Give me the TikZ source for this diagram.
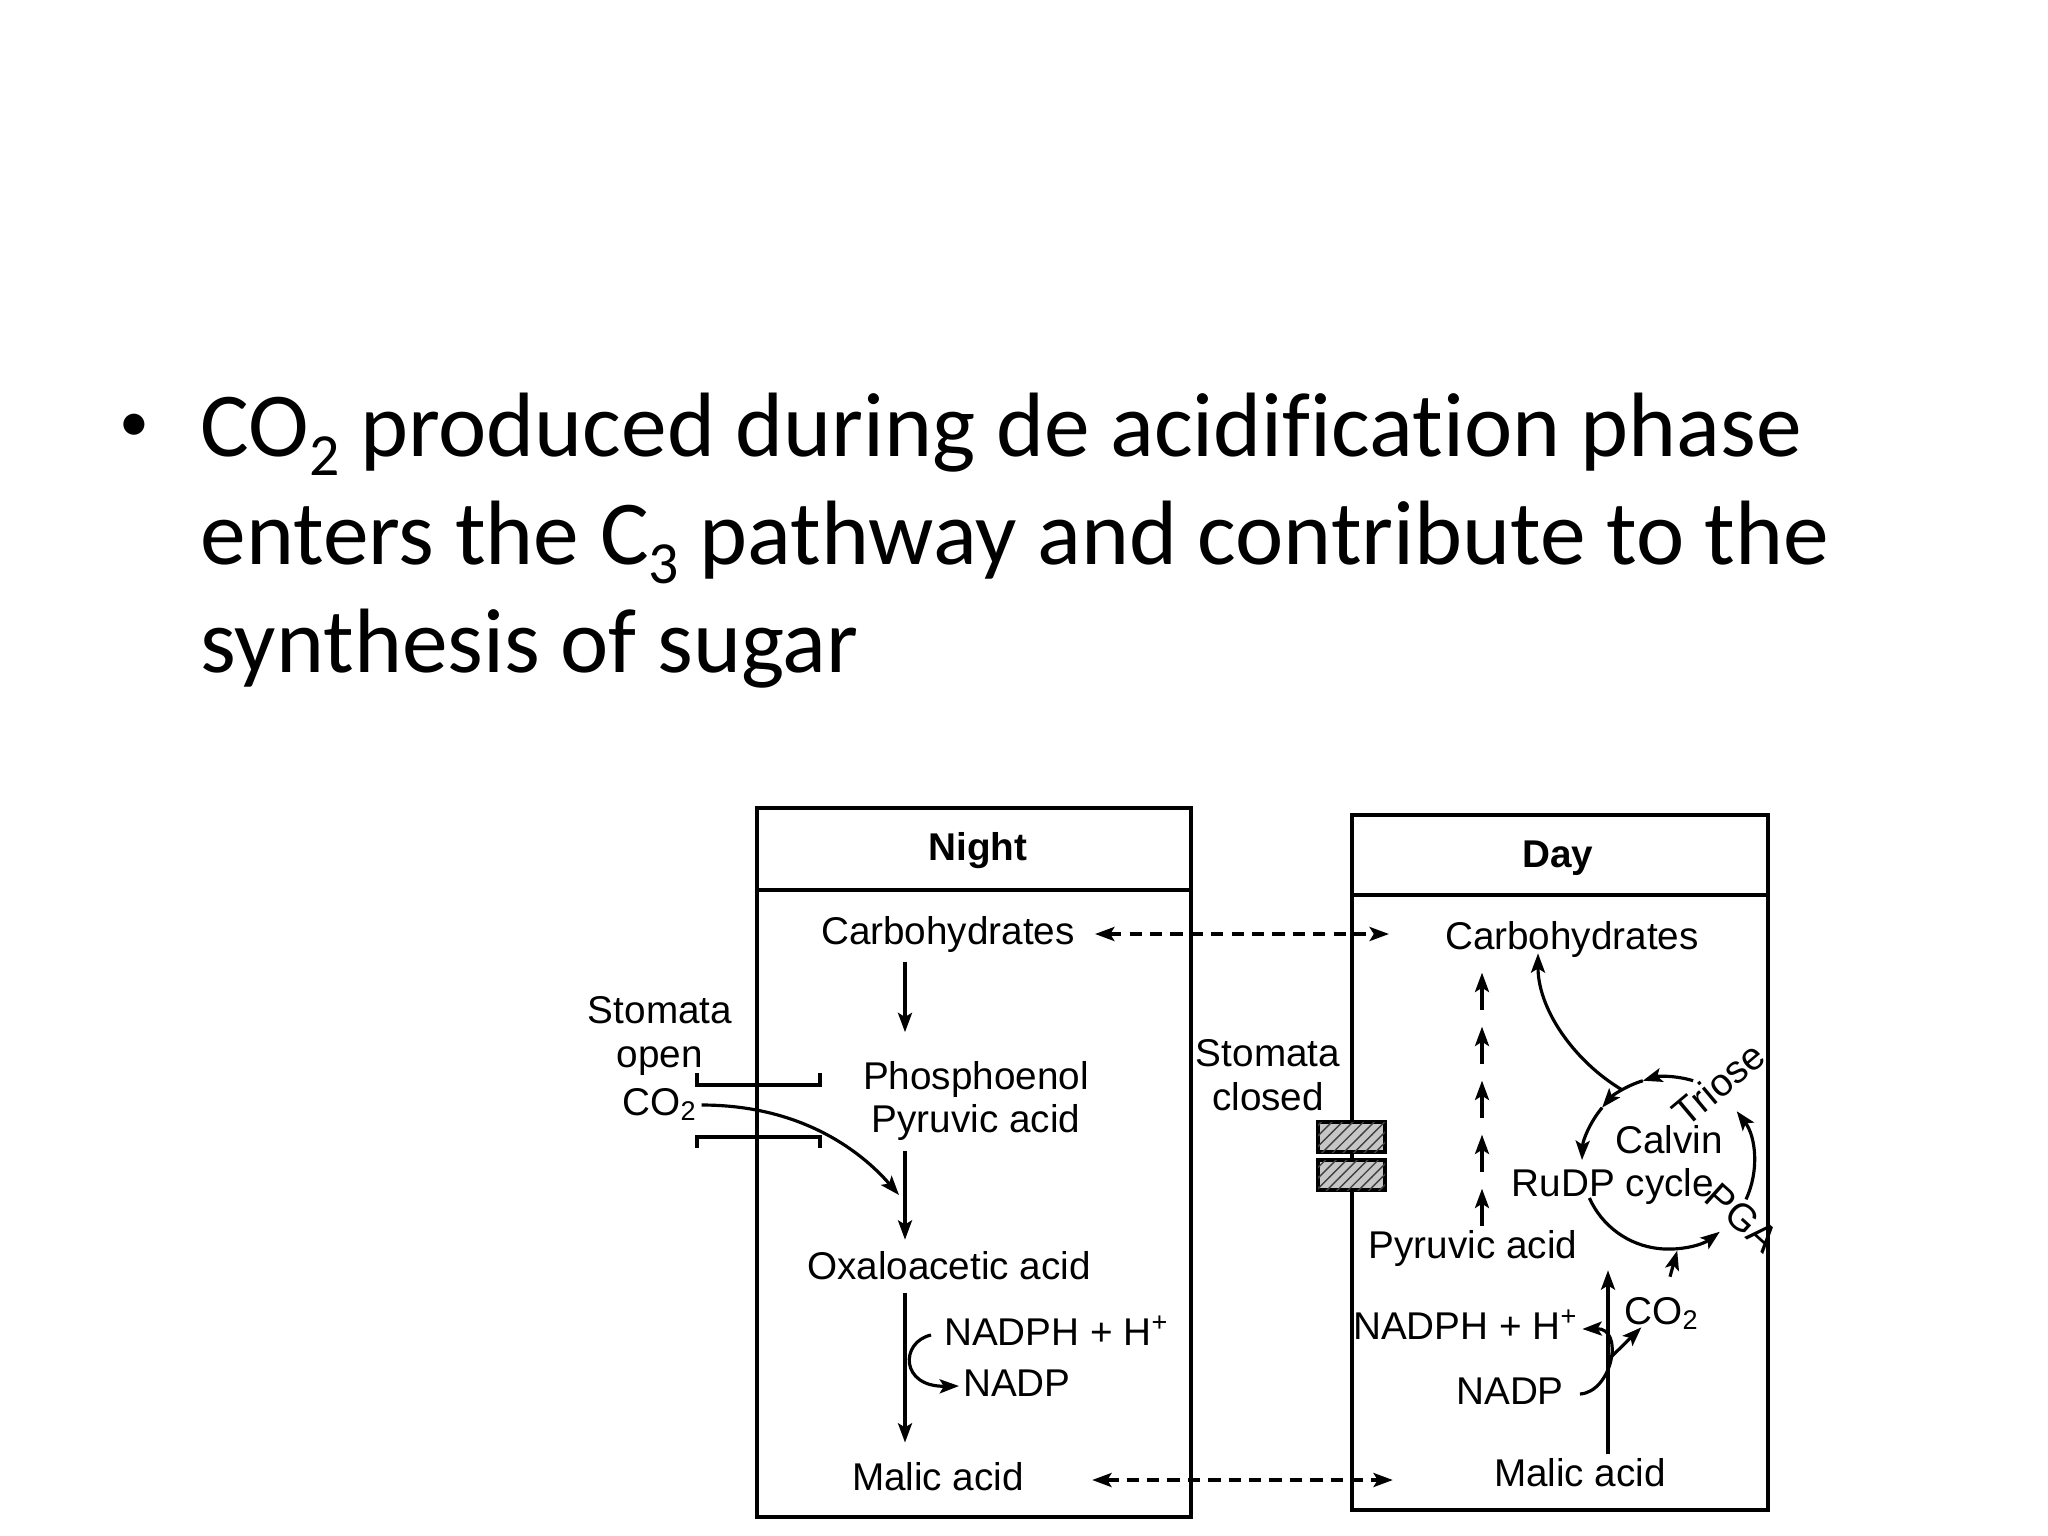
\documentclass[tikz,border=0pt]{standalone}
\usepackage{fontspec}
\setmainfont{Liberation Sans}
\newfontfamily\slidefont[Ligatures=NoCommon]{Carlito}
\newcommand\lowsub[1]{\raisebox{-5.5pt}{\fontsize{17}{17}\selectfont #1}}
\usetikzlibrary{arrows.meta,positioning,calc,patterns}

\begin{document}
\begin{tikzpicture}[
  x=0.01cm, y=0.01cm,
  font=\fontsize{11}{12.5}\selectfont,
  label/.style={inner sep=1pt, text height=8pt, text depth=2.3pt},
  twoline/.style={inner sep=1pt, align=center},
  head/.style={label, font=\fontsize{11}{12.5}\selectfont\bfseries},
  slide/.style={font=\slidefont\fontsize{26}{30.7}\selectfont},
  arr/.style={-{Stealth[length=5.5pt,width=4pt,inset=1.2pt]}, line width=0.9pt},
  dasharr/.style={{Stealth[length=5.5pt,width=4pt,inset=1.2pt]}-{Stealth[length=5.5pt,width=4pt,inset=1.2pt]}, line width=0.9pt, dash pattern=on 3.5pt off 2.3pt},
  panel/.style={line width=1pt},
  pore/.style={line width=0.9pt},
  guard/.style={draw, line width=0.9pt, fill=gray!45, postaction={pattern=north east lines, pattern color=black!75}}
]
  \fill[white] (0,0) rectangle (2048,-1536);
  \useasboundingbox (0,0) rectangle (2048,-1536);

  \node[font=\slidefont\fontsize{17}{17}\selectfont, inner sep=0] (dot) at (134,-428) {•};
  \node[slide, anchor=north west, align=left, inner sep=0] (point) at (200,-392) {CO\lowsub{2} produced during de acidification phase\\enters the C\lowsub{3} pathway and contribute to the\\synthesis of sugar};

  \draw[panel] (757,-808) rectangle (1191,-1517);
  \draw[panel] (757,-890) -- (1191,-890);
  \draw[panel] (1352,-815) rectangle (1768,-1510);
  \draw[panel] (1352,-895) -- (1768,-895);

  \node[head] (night) at (978,-850) {Night};
  \node[label] (carbN) at (948,-934) {Carbohydrates};
  \node[twoline] (pep) at (976,-1101) {Phosphoenol\\Pyruvic acid};
  \node[label] (oaa) at (949,-1269) {Oxaloacetic acid};
  \node[label, anchor=west] (nadphN) at (940,-1335) {NADPH + H\textsuperscript{+}};
  \node[label, anchor=west] (nadpN) at (959,-1386) {NADP};
  \node[label] (malN) at (938,-1480) {Malic acid};
  \node[twoline] (stomO) at (660,-1036) {Stomata\\open};
  \node[label] (co2N) at (660,-1105) {CO\textsubscript{2}};

  \draw[pore] (697,-1073) -- (697,-1085) -- (820,-1085) -- (820,-1073);
  \draw[pore] (697,-1148) -- (697,-1137) -- (820,-1137) -- (820,-1148);

  \coordinate (colN) at (905,0);
  \coordinate (fix) at (899,-1195);
  \draw[arr, shorten <=1.7pt, shorten >=7pt] (colN |- carbN.south) -- (colN |- pep.north);
  \draw[arr, shorten <=1.6pt, shorten >=2pt] (colN |- pep.south) -- (colN |- oaa.north);
  \draw[arr, shorten <=0.6pt, shorten >=4.3pt] (colN |- oaa.south) -- (colN |- malN.north);
  \draw[arr] (co2N.east) .. controls (800,-1105) and (860,-1150) .. (fix);
  \draw[arr] ($(nadphN.west)+(-9,0)$) .. controls (900,-1342) and (900,-1387) .. (nadpN.west);

  \node[head] (day) at (1558,-857) {Day};
  \node[label] (carbD) at (1572,-939) {Carbohydrates};
  \node[label] (pyr) at (1473,-1248) {Pyruvic acid};
  \node[label, anchor=west] (nadphD) at (1349,-1329) {NADPH + H\textsuperscript{+}};
  \node[label] (nadpD) at (1510,-1394) {NADP};
  \node[label] (co2D) at (1662,-1314) {CO\textsubscript{2}};
  \node[label] (malD) at (1580,-1476) {Malic acid};
  \node[twoline] (stomC) at (1268,-1075) {Stomata\\closed};

  \draw[guard] (1318,-1122) rectangle (1385,-1152);
  \draw[guard] (1318,-1160) rectangle (1385,-1190);

  \draw[dasharr] ($(carbN.east)+(16,0)$) -- ($(carbN.east -| carbD.west)+(-52,0)$);
  \draw[dasharr] ($(malN.east)+(64,0)$) -- ($(malN.east -| malD.west)+(-97,0)$);

  \coordinate (dcol) at (1482,0);
  \foreach \k in {0,...,4}
    \draw[arr] ($(dcol |- pyr.north)+(0,54*\k)$) -- ++(0,37);

  \coordinate (cyc) at (1668,-1163);
  \node[label] (calvin) at (1669,-1143) {Calvin};
  \node[label] (rudp) at (1613,-1186) {RuDP cycle};
  \node[label, rotate=40] (triose) at (1721,-1087) {Triose};
  \node[label, rotate=-42] (pga) at (1740,-1220) {PGA};
  \coordinate (jn) at ($(cyc)+(122:0.86cm)$);

  \draw[arr] ($(cyc)+(73:0.86cm)$) arc[start angle=73, end angle=107, radius=0.86cm];
  \draw[arr] ($(cyc)+(107:0.86cm)$) arc[start angle=107, end angle=140, radius=0.86cm];
  \draw[arr] ($(cyc)+(140:0.86cm)$) arc[start angle=140, end angle=178, radius=0.86cm];
  \draw[arr] ($(cyc)+(204:0.86cm)$) arc[start angle=204, end angle=307, radius=0.86cm];
  \draw[arr] ($(cyc)+(335:0.86cm)$) arc[start angle=335, end angle=397, radius=0.86cm];
  \draw[arr] (jn) .. controls (1575,-1062) and (1538,-1010) .. ($(carbD.south)+(-34,8)$);

  \coordinate (vcolD) at (1608,0);
  \coordinate (brk) at (1608,-1360);
  \draw[arr] (vcolD |- malD.north) -- (vcolD |- pyr.south);
  \draw[arr] ($(nadpD.east)+(12,0)$) .. controls (1612,-1392) and (1625,-1328) .. (nadphD.east);
  \draw[arr] (brk) -- ($(co2D.south west)+(21,9)$);
  \draw[arr] ($(co2D.north)+(8,15)$) -- ($(cyc)+(276:0.88cm)$);
\end{tikzpicture}
\end{document}
